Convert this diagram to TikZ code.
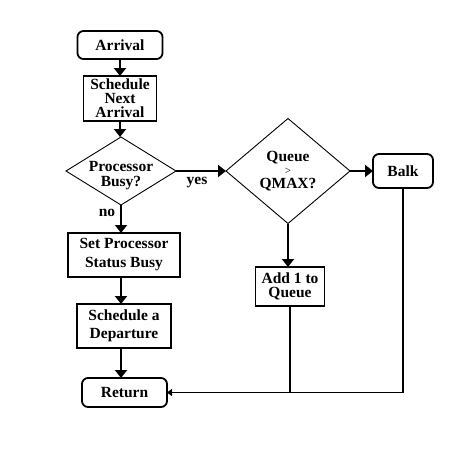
\documentclass[tikz,border=0pt]{standalone}
\usepackage{fontspec}
\setmainfont{Liberation Serif}
\usetikzlibrary{shapes.geometric,arrows.meta}
\tikzset{
  base/.style={font=\fontsize{15.5}{15}\selectfont\bfseries, align=center, inner sep=0pt, outer sep=0pt, text=black},
  proc/.style={base, draw, line width=1.8pt, rectangle},
  term/.style={base, draw, line width=1.8pt, rectangle, rounded corners=6pt},
  dec/.style={draw, line width=0.9pt, diamond, inner sep=0pt, outer sep=0pt, aspect=1},
  conn/.style={line width=1.9pt, -{Triangle[length=8pt,width=12pt]}},
  retconn/.style={line width=1.9pt, -{Triangle[length=5pt,width=7pt]}},
  plainline/.style={line width=1.9pt}
}
\begin{document}
\begin{tikzpicture}[x=1pt,y=-1pt]
\useasboundingbox[fill=white] (0,0) rectangle (448,466);
% left column
\node[term, minimum width=85pt, minimum height=28pt] (arr) at (120,45) {Arrival};
\node[proc, minimum width=73pt, minimum height=45pt, font=\fontsize{15.5}{14}\selectfont\bfseries] (sna) at (120,98.5) {Schedule\\Next\\Arrival};
\node[dec, minimum width=110pt, minimum height=68pt] (pb) at (121,171) {};
\node[base] (pbt) at (121,175.5) {Processor\\Busy?};
\node[proc, minimum width=112pt, minimum height=44pt, font=\fontsize{15.5}{19}\selectfont\bfseries] (spb) at (124,255) {Set Processor\\Status Busy};
\node[proc, minimum width=94pt, minimum height=44pt, font=\fontsize{15.5}{18}\selectfont\bfseries] (sd) at (124,326) {Schedule a\\Departure};
\node[term, minimum width=85pt, minimum height=29pt] (ret) at (124.5,392.5) {Return};
% right part
\node[dec, minimum width=124pt, minimum height=105pt] (qd) at (288,171) {};
\node[base] (qt1) at (288,157.5) {Queue};
\node[base, font=\fontsize{11}{11}\selectfont] (qt2) at (288,171) {>};
\node[base] (qt3) at (288,184.5) {QMAX?};
\node[term, minimum width=60pt, minimum height=34pt] (balk) at (403,171) {Balk};
\node[proc, minimum width=69pt, minimum height=39pt, font=\fontsize{15.5}{14}\selectfont\bfseries] (add) at (290,286.5) {Add 1 to\\Queue};
% labels
\node[base] (yes) at (197,183) {yes};
\node[base] (no) at (107,213) {no};
% connectors
\draw[conn] (arr.south) -- (sna.north);
\draw[conn] (sna.south) -- (sna.south |- pb.north);
\draw[conn] (pb.south) -- (pb.south |- spb.north);
\draw[conn] (spb.south -| pb.south) -- (pb.south |- sd.north);
\draw[conn] (sd.south -| pb.south) -- (pb.south |- ret.north);
\draw[conn] (pb.east) -- (qd.west);
\draw[conn] (qd.east) -- (balk.west);
\draw[conn] (qd.south) -- (qd.south |- add.north);
\draw[plainline] (add.south) -- (add.south |- ret.east);
\draw[retconn] (balk.south) |- (ret.east);
\end{tikzpicture}
\end{document}
